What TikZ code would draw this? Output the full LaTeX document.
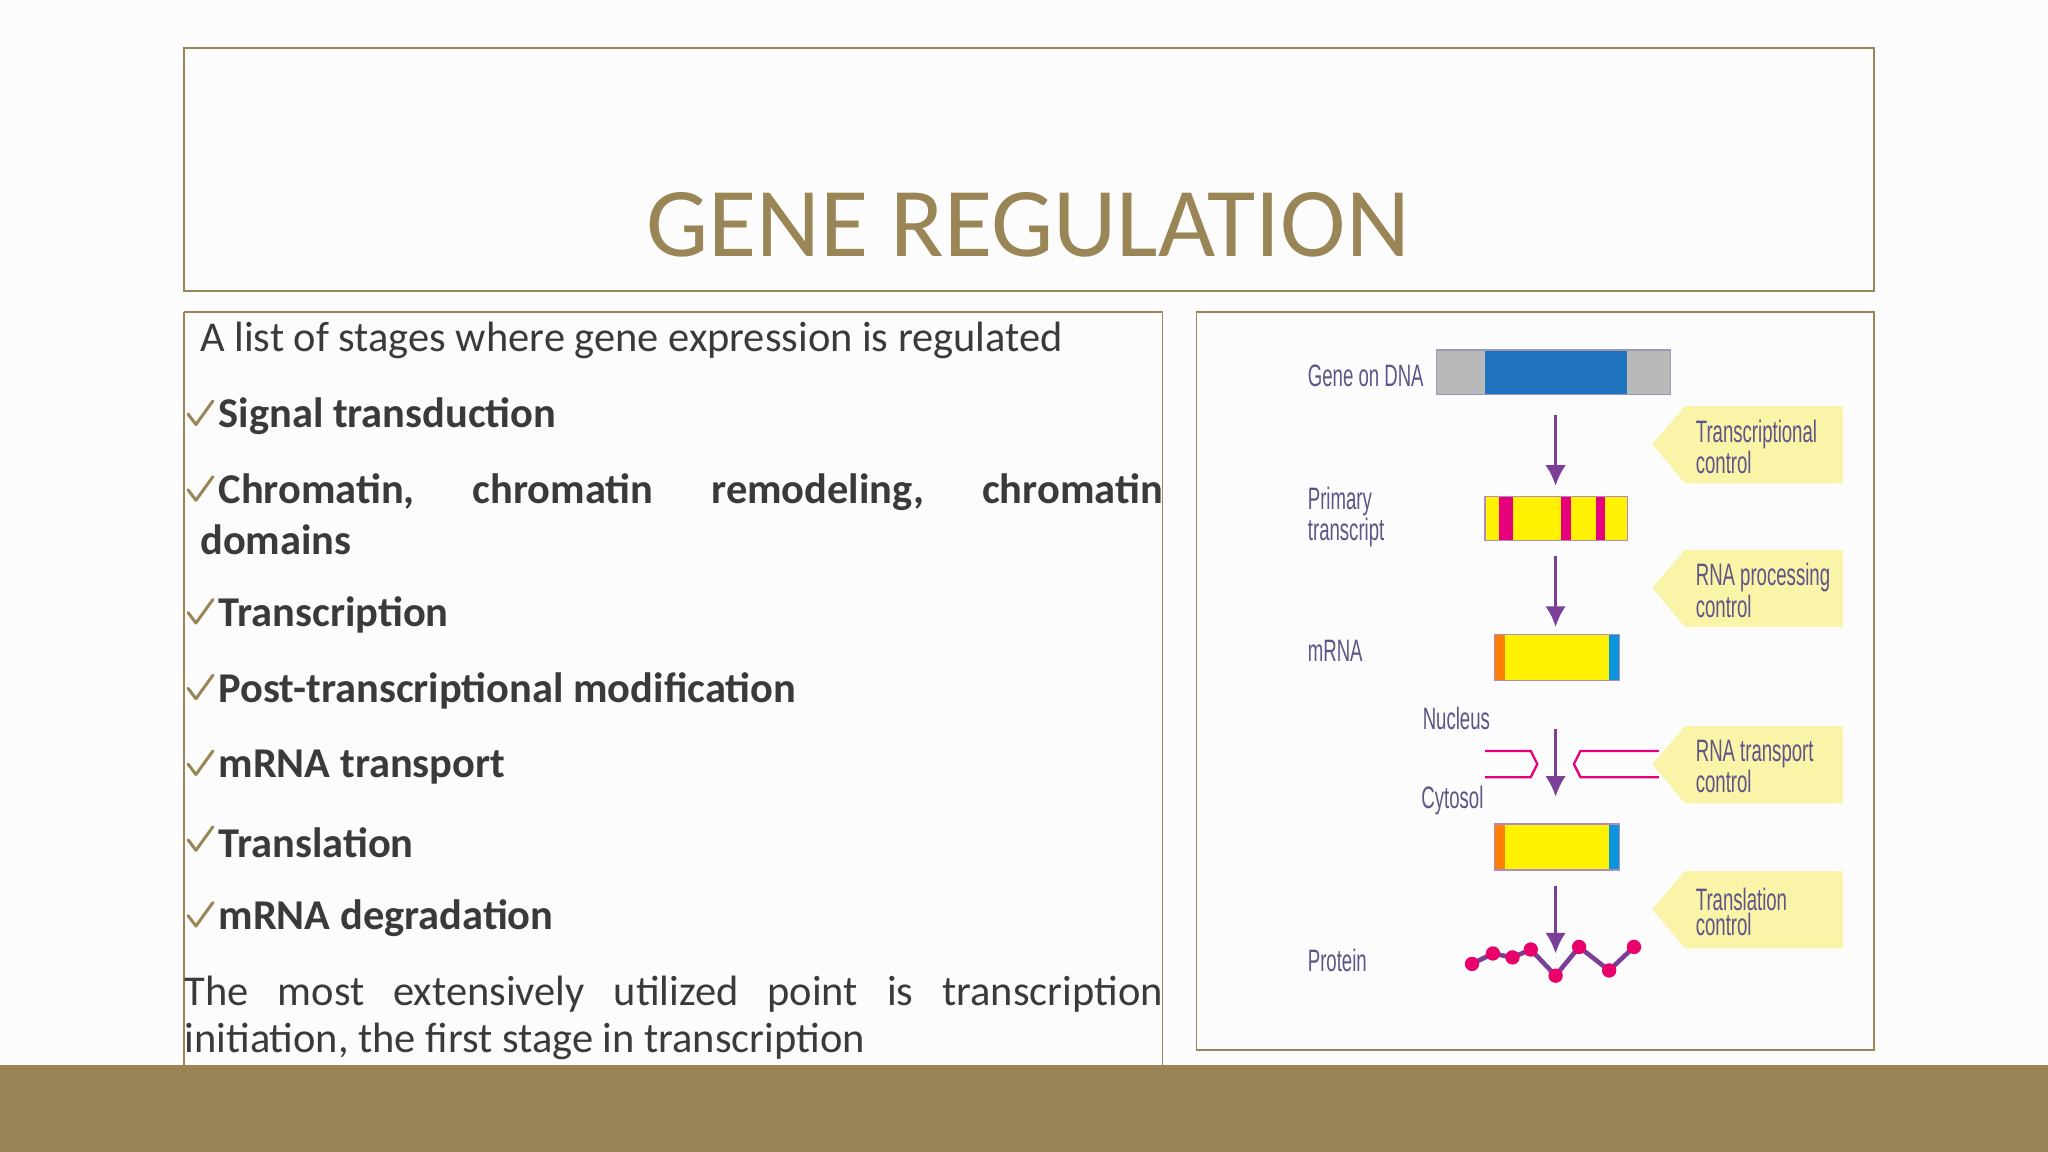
\documentclass[tikz,border=0pt]{standalone}
\usepackage{fontspec}
\setmainfont{Carlito}
\newfontfamily\lblfont{Liberation Sans}
\definecolor{olive}{HTML}{9A8556}
\definecolor{band}{HTML}{9A8456}
\definecolor{txt}{HTML}{3A3A3A}
\definecolor{arr}{HTML}{7B3F98}
\definecolor{lbl}{HTML}{5E5487}
\definecolor{tagc}{HTML}{FAF4A8}
\definecolor{dblue}{HTML}{1F72BD}
\definecolor{mag}{HTML}{E6007E}
\definecolor{yel}{HTML}{FFF200}
\newcommand{\nl}[1]{\scalebox{0.6}[1]{#1}}
\tikzset{
  frame/.style={draw=olive, line width=0.8pt},
  item/.style={anchor=west, text=txt, font=\fontsize{18.5}{21}\selectfont\bfseries, inner sep=0},
  body/.style={anchor=west, text=txt, font=\fontsize{18.5}{21}\selectfont, inner sep=0},
  lab/.style={text=lbl, font=\lblfont\fontsize{13.5}{11}\selectfont, inner sep=0, align=left},
  parr/.style={draw=arr, line width=1.5pt, -{Latex[length=9pt,width=9pt]}},
  chk/.style={draw=olive, line width=1.3pt, line cap=round, line join=round}
}
\usetikzlibrary{arrows.meta}
\begin{document}
\begin{tikzpicture}[x=0.02cm,y=-0.02cm]
\useasboundingbox (0,0) rectangle (1568,882);
\fill[white!98!gray] (0,0) rectangle (1568,882);
\fill[band] (0,815) rectangle (1568,882);
\draw[frame] (141,37) rectangle (1435,223);
\node[text=olive, font=\fontsize{43}{43}\selectfont] (title) at (787,172) {GENE REGULATION};
\draw[frame] (141,239) -- (890,239) -- (890,815) (141,815) -- (141,239);
\draw[frame] (916,239) rectangle (1435,804);
% left text
\node[body] (intro) at (153,261) {A list of stages where gene expression is regulated};
\foreach \y/\t in {319/Signal transduction,471/Transcription,529/Post-transcriptional modification,587/mRNA transport,645/Translation,703/mRNA degradation}{
  \draw[chk] (144,\y-2) -- (150,\y+6) -- (163,\y-12);
  \node[item] at (167,\y) {\t};
}
\draw[chk] (144,375) -- (150,383) -- (163,365);
\node[item] (chrom) at (167,377) {\makebox[723\dimexpr0.02cm\relax][s]{Chromatin, \hfill chromatin \hfill remodeling, \hfill chromatin}};
\node[item] (dom) at (153,413) {domains};
\node[body] (p1) at (141,761) {\makebox[749\dimexpr0.02cm\relax][s]{The \hfill most \hfill extensively \hfill utilized \hfill point \hfill is \hfill transcription}};
\node[body] (p2) at (141,797) {initiation, the first stage in transcription};
% diagram
\node[lab, anchor=west] (g) at (1001,288) {\nl{Gene on DNA}};
\fill[gray!55] (1100,268) rectangle (1279,302);
\fill[dblue] (1137,268) rectangle (1246,302);
\draw[lbl!60, line width=0.6pt] (1100,268) rectangle (1279,302);
\node[lab, anchor=west] (pt) at (1001,396) {\nl{Primary}\\\nl{transcript}};
\fill[yel] (1137,380) rectangle (1246,414);
\fill[mag] (1148,380) rectangle (1158,414);
\fill[mag] (1195,380) rectangle (1203,414);
\fill[mag] (1222,380) rectangle (1229,414);
\draw[arr!60, line width=0.6pt] (1137,380) rectangle (1246,414);
\node[lab, anchor=west] (m) at (1001,498) {\nl{mRNA}};
\foreach \yt in {486,631}{
  \fill[yel] (1144,\yt) rectangle (1240,\yt+35);
  \fill[orange] (1144,\yt) rectangle (1152,\yt+35);
  \fill[cyan!80!blue] (1232,\yt) rectangle (1240,\yt+35);
  \draw[arr!60, line width=0.6pt] (1144,\yt) rectangle (1240,\yt+35);
}
\node[lab] (nuc) at (1115,550) {\nl{Nucleus}};
\node[lab] (cyt) at (1112,613) {\nl{Cytosol}};
\draw[mag, line width=1pt] (1137,575) -- (1172,575) -- (1177,585) -- (1172,595) -- (1137,595);
\draw[mag, line width=1pt] (1270,575) -- (1210,575) -- (1205,585) -- (1210,595) -- (1270,595);
\node[lab, anchor=west] (pr) at (1001,735) {\nl{Protein}};
\coordinate (a1) at (1191,318); \coordinate (b1) at (1191,372);
\coordinate (a2) at (1191,426); \coordinate (b2) at (1191,480);
\coordinate (a3) at (1191,558); \coordinate (b3) at (1191,610);
\coordinate (a4) at (1191,678); \coordinate (b4) at (1191,730);
\draw[parr] (a1) -- (b1);
\draw[parr] (a2) -- (b2);
\draw[parr] (a3) -- (b3);
\draw[parr] (a4) -- (b4);
\draw[arr, line width=2pt] (1127,738) -- (1143,730) -- (1158,733) -- (1172,727) -- (1191,747) -- (1209,725) -- (1232,743) -- (1251,725);
\foreach \p in {(1127,738),(1143,730),(1158,733),(1172,727),(1191,747),(1209,725),(1232,743),(1251,725)}
  \fill[mag!85!red] \p circle (5.5);
% tags
\foreach \yt/\t in {311/Transcriptional,421/RNA processing,556/RNA transport,667/Translation}{
  \fill[tagc] (1265,\yt+29) -- (1290,\yt) -- (1411,\yt) -- (1411,\yt+59) -- (1290,\yt+59) -- cycle;
  \node[lab, anchor=west] at (1298,\yt+31) {\nl{\t}\\\nl{control}};
}
\end{tikzpicture}
\end{document}
